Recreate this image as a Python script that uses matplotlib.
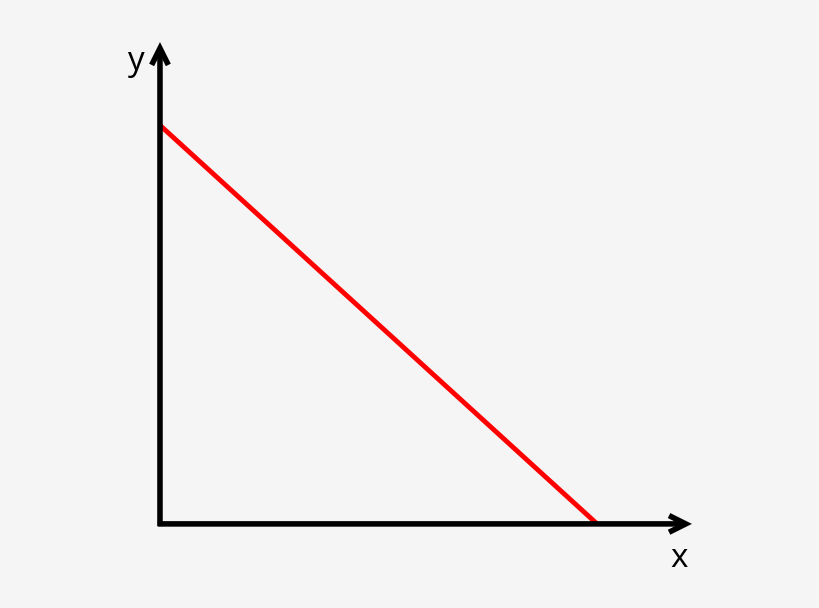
import matplotlib
matplotlib.use("Agg")
import matplotlib.pyplot as plt

# data: straight line from y-intercept to x-intercept
line_x = [0, 10]
line_y = [9.1, 0]

axis_x_end = 12.17
axis_y_end = 11.0

bg = "#f5f5f5"
fig = plt.figure(figsize=(8.2, 6.08), dpi=100, facecolor=bg)
ax = fig.add_axes([0, 0, 1, 1])
ax.set_facecolor(bg)
ax.set_xlim(-3.66, 15.1)
ax.set_ylim(-1.92, 11.96)
ax.axis("off")

# axes with open arrowheads
arrow = dict(arrowstyle="->", lw=4, color="black", mutation_scale=30,
             shrinkA=0, shrinkB=0, capstyle="butt", joinstyle="miter")
ax.annotate("", xy=(axis_x_end, 0), xytext=(-0.05, 0), arrowprops=arrow)
ax.annotate("", xy=(0, axis_y_end), xytext=(0, -0.05), arrowprops=arrow)

# red line
ax.plot(line_x, line_y, color="#ff0000", lw=3.5, solid_capstyle="butt", zorder=1)

ax.text(-0.57, 10.55, "y", fontsize=24, family="Open Sans", ha="center", va="center")
ax.text(11.88, -0.78, "x", fontsize=24, family="Open Sans", ha="center", va="center")

fig.savefig("out.png", dpi=100, facecolor=bg)
